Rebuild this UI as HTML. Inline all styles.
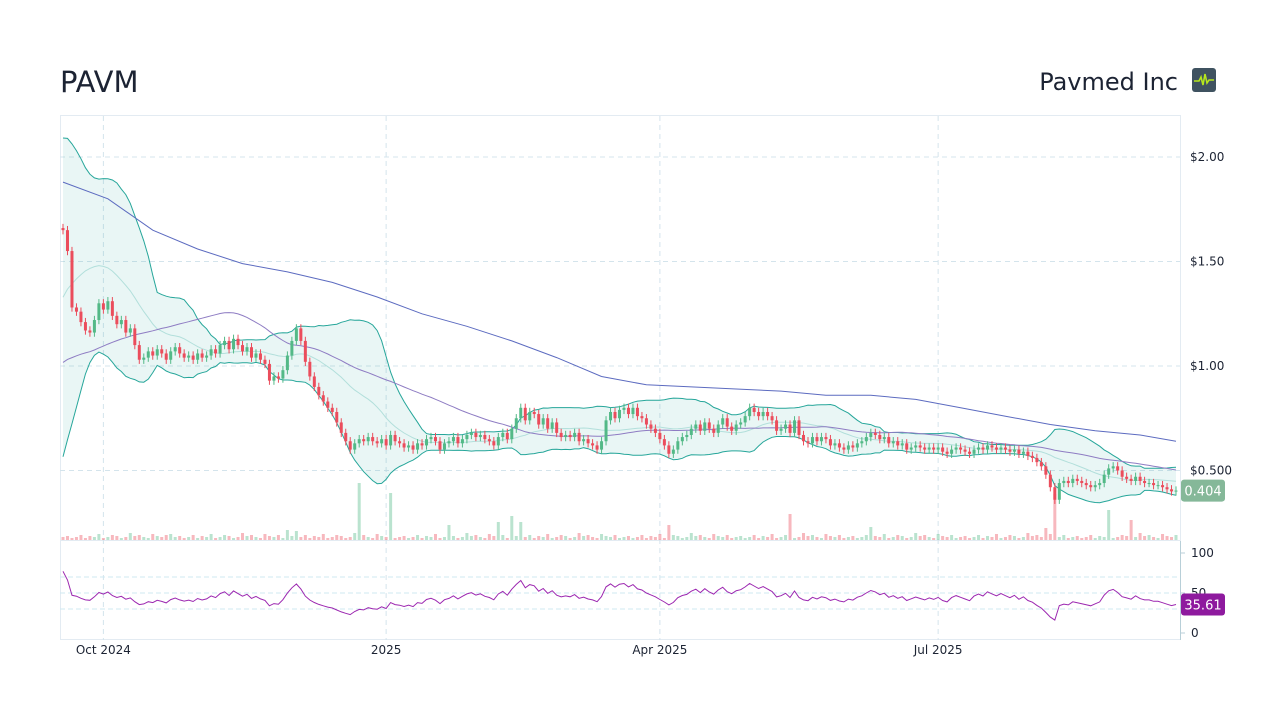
<!DOCTYPE html>
<html><head><meta charset="utf-8">
<style>
body{margin:0;background:#fff;width:1280px;height:720px;overflow:hidden;font-family:"DejaVu Sans","Liberation Sans",sans-serif;}
#title{position:absolute;left:60px;top:65px;font-size:29px;color:#1c2333;}
#company{position:absolute;right:102px;top:68px;font-size:24px;color:#1c2333;}
#logo{position:absolute;left:1192px;top:68px;width:24px;height:24px;background:#3f5260;border-radius:3px;}
svg{position:absolute;left:0;top:0;font-family:"DejaVu Sans","Liberation Sans",sans-serif;}
</style></head><body>
<div id="title">PAVM</div>
<div id="company">Pavmed Inc</div>
<div id="logo"><svg width="24" height="24" viewBox="0 0 24 24"><polyline points="2,13 7,13 9,9 11,17 13,6 15,15 17,12 22,12" fill="none" stroke="#b5e61d" stroke-width="1.6"/></svg></div>
<svg id="chart" width="1280" height="720"></svg>
<script>
const history=[0.85,0.83,0.86,0.84,0.82,0.85,0.87,0.83,0.80,0.82,0.84,0.81,0.79,0.83,0.85,0.82,0.80,0.78,0.81,0.83,0.80,0.79,0.77,0.80,0.82,0.78,0.76,0.79,0.77,0.76,
0.78,0.76,0.77,0.79,0.80,0.82,0.92,1.05,1.2,1.35,1.45,1.55,1.62,1.68,1.65,1.7,1.75,1.72,1.68,1.66];
const closes=[1.65,1.55,1.28,1.26,1.21,
1.17,1.16,1.22,1.30,1.27,1.31,1.24,1.20,1.22,1.16,1.18,1.10,
1.03,1.04,1.07,1.05,1.08,1.06,1.03,1.07,1.09,1.06,1.04,1.05,1.03,1.06,
1.04,1.05,1.08,1.06,1.10,1.12,1.08,1.13,1.10,
1.07,1.09,1.04,1.06,1.03,1.01,0.93,0.95,
0.94,0.98,1.05,1.12,1.18,1.12,
1.02,0.95,0.90,0.86,0.83,0.80,0.78,
0.73,0.68,0.64,0.60,0.63,0.65,0.64,
0.66,0.64,0.63,0.65,0.62,0.67,0.64,0.63,0.61,
0.62,0.60,0.63,0.62,0.65,0.66,0.64,0.60,0.63,
0.64,0.66,0.63,0.65,0.67,0.68,0.66,0.67,0.65,0.64,0.62,0.66,0.68,
0.65,0.70,0.75,0.80,
0.74,0.78,0.77,0.72,0.75,0.70,0.73,0.68,0.66,
0.67,0.66,0.68,0.64,0.65,0.63,0.62,0.60,0.64,
0.74,0.78,0.75,0.79,0.80,0.77,0.80,0.76,0.75,
0.72,0.70,0.68,0.65,0.62,0.58,0.60,0.64,0.66,
0.67,0.70,0.72,0.69,0.73,0.70,0.68,0.72,0.75,0.71,0.69,0.72,0.73,
0.76,0.80,0.78,0.76,0.78,0.76,0.74,
0.69,0.70,0.72,0.68,0.74,0.67,0.64,
0.63,0.66,0.64,0.66,0.65,0.62,0.63,0.61,0.60,0.62,0.61,0.63,0.64,
0.66,0.68,0.67,0.65,0.66,0.63,0.64,0.62,0.63,
0.60,0.61,0.62,0.61,0.60,0.61,0.60,0.61,0.59,
0.58,0.60,0.61,0.60,0.59,0.58,0.60,0.61,0.60,0.62,0.61,0.60,0.61,
0.60,0.59,0.60,0.58,0.59,0.57,0.56,0.54,0.52,
0.48,0.42,0.36,
0.44,0.45,0.44,0.46,0.45,0.44,0.43,0.42,0.43,0.44,
0.48,0.51,0.52,0.50,
0.47,0.46,0.45,0.47,0.45,0.44,0.44,
0.43,0.43,0.42,0.41,0.40,0.404];
const sma200Idx=[0,10,20,30,40,50,60,70,80,90,100,110,120,130,140,150,160,170,180,190,200,210,220,230,240,248];
const sma200Val=[1.88,1.80,1.65,1.56,1.49,1.45,1.40,1.33,1.25,1.19,1.12,1.04,0.95,0.91,0.90,0.89,0.88,0.86,0.86,0.84,0.80,0.76,0.72,0.69,0.67,0.64];
const volSpikeIdx=[66,73,86,97,100,102,135,162,180,219,221,233,238,24,50,52];
const volSpikeVal=[57,47,15,18,24,18,15,26,13,12,46,30,20,6,10,9];
const baseVol=[3,4,2,3,5,2,4,3,6,2,3,5,4,2,3,7,4,5,3,2,6,4,3,5,2];
const priceTicks=[2.0,1.5,1.0,0.5];
const priceTickLabels=["$2.00","$1.50","$1.00","$0.500"];
const dateTickIdx=[9,72,133,195];
const dateTickLabels=["Oct 2024","2025","Apr 2025","Jul 2025"];
const rsiTicks=[100,50,0];

const NS="http://www.w3.org/2000/svg";
const svg=document.getElementById('chart');
const X0=63,DX=(1176-63)/(closes.length-1);
const xs=i=>X0+i*DX;
const yp=p=>575-209*p;
const yv=v=>540-v;
const yr=r=>633-0.8*r;
function mk(tag,attrs,name){const e=document.createElementNS(NS,tag);for(const k in attrs)e.setAttribute(k,attrs[k]);svg.appendChild(e);return e;}
mk('rect',{x:60.5,y:115.5,width:1120,height:524,fill:'none',stroke:'#e3ebf2'},'plot-frame');
mk('line',{x1:60,y1:540.5,x2:1180,y2:540.5,stroke:'#e3ebf2'},'pane-divider');
priceTicks.forEach((p,k)=>{
  mk('line',{x1:60,y1:yp(p),x2:1180,y2:yp(p),stroke:'#d4e4ec','stroke-dasharray':'5,4'},'price-gridline');
  const t=mk('text',{x:1190,y:yp(p)+4,'font-size':12,fill:'#1c2333'},'price-tick-label');t.textContent=priceTickLabels[k];
});
dateTickIdx.forEach((i,k)=>{
  mk('line',{x1:xs(i),y1:116,x2:xs(i),y2:640,stroke:'#d4e4ec','stroke-dasharray':'5,4'},'date-gridline');
  const t=mk('text',{x:xs(i),y:654,'font-size':12,fill:'#1c2333','text-anchor':'middle'},'date-tick-label');t.textContent=dateTickLabels[k];
});
[70,50,30].forEach(r=>mk('line',{x1:60,y1:yr(r),x2:1180,y2:yr(r),stroke:'#cfe9f2','stroke-dasharray':'5,3'},'rsi-level-line'));
mk('line',{x1:1180.5,y1:541,x2:1180.5,y2:640,stroke:'#b8cfd8'},'rsi-axis');
rsiTicks.forEach(r=>{mk('line',{x1:1180,y1:yr(r),x2:1185,y2:yr(r),stroke:'#b8cfd8'},'rsi-tick');
  const t=mk('text',{x:1191,y:yr(r)+4,'font-size':12,fill:'#1c2333'},'rsi-tick-label');t.textContent=r;});
const all=history.concat(closes),H=history.length;
const mid=[],up=[],lo=[],sma50=[];
for(let i=0;i<closes.length;i++){const j=H+i;const w=all.slice(j-19,j+1);const m=w.reduce((a,b)=>a+b)/20;const sd=Math.sqrt(w.reduce((a,b)=>a+(b-m)**2,0)/20);
 mid.push(m);up.push(m+2*sd);lo.push(m-2*sd);const w5=all.slice(j-49,j+1);sma50.push(w5.reduce((a,b)=>a+b)/50);}
const pts=a=>a.map((v,i)=>xs(i).toFixed(1)+','+yp(v).toFixed(1));
mk('polygon',{points:pts(up).concat(pts(lo).reverse()).join(' '),fill:'rgba(38,166,154,0.1)'},'bollinger-fill');
mk('polyline',{points:pts(up).join(' '),fill:'none',stroke:'#26a69a','stroke-width':1},'bollinger-upper');
mk('polyline',{points:pts(lo).join(' '),fill:'none',stroke:'#26a69a','stroke-width':1},'bollinger-lower');
mk('polyline',{points:pts(mid).join(' '),fill:'none',stroke:'#b2dfdb','stroke-width':1},'bollinger-middle');
mk('polyline',{points:pts(sma50).join(' '),fill:'none',stroke:'#8e7cc3','stroke-width':1},'sma-50');
mk('polyline',{points:sma200Idx.map((i,k)=>xs(i).toFixed(1)+','+yp(sma200Val[k]).toFixed(1)).join(' '),fill:'none',stroke:'#5c6bc0','stroke-width':1},'sma-200');
for(let i=0;i<closes.length;i++){
  const c=closes[i],o=i?closes[i-1]:all[H-1];const upc=c>=o;
  let v=baseVol[i%baseVol.length];const s=volSpikeIdx.indexOf(i);if(s>=0)v=volSpikeVal[s];
  mk('rect',{x:xs(i)-1.5,y:yv(v),width:3,height:v,fill:upc?'rgba(83,185,135,0.4)':'rgba(235,77,92,0.4)'},'volume-bar');
}
for(let i=0;i<closes.length;i++){
  const c=closes[i],o=i?closes[i-1]:all[H-1];const upc=c>=o;const col=upc?'#53b987':'#eb4d5c';
  mk('line',{x1:xs(i),x2:xs(i),y1:yp(Math.max(o,c)+0.02),y2:yp(Math.min(o,c)-0.02),stroke:col,'stroke-width':1},'candle-wick');
  const t=yp(Math.max(o,c)),b=yp(Math.min(o,c));
  mk('rect',{x:xs(i)-1.5,y:t,width:3,height:Math.max(1,b-t),fill:col},'candle-body');
}
let g=0,l=0;const rsi=[];
for(let j=1;j<all.length;j++){const d=all[j]-all[j-1];const gu=Math.max(d,0),ld=Math.max(-d,0);
 if(j<=14){g+=gu/14;l+=ld/14;}else{g=(g*13+gu)/14;l=(l*13+ld)/14;}
 if(j>=H)rsi.push(l===0?100:100-100/(1+g/l));}
mk('polyline',{points:rsi.map((r,i)=>xs(i).toFixed(1)+','+yr(r).toFixed(1)).join(' '),fill:'none',stroke:'#9c27b0','stroke-width':1},'rsi-line');
const last=closes[closes.length-1];
mk('rect',{x:1181,y:yp(last)-11,width:44,height:22,rx:3,fill:'#85b899'},'last-price-badge');
let t=mk('text',{x:1203,y:yp(last)+5,'font-size':13,fill:'#fff','text-anchor':'middle'},'last-price-label');t.textContent=last.toFixed(3);
const lr=rsi[rsi.length-1];
mk('rect',{x:1181,y:yr(lr)-11,width:44,height:22,rx:3,fill:'#8e1a9e'},'last-rsi-badge');
t=mk('text',{x:1203,y:yr(lr)+5,'font-size':13,fill:'#fff','text-anchor':'middle'},'last-rsi-label');t.textContent=lr.toFixed(2);
</script>
</body></html>
